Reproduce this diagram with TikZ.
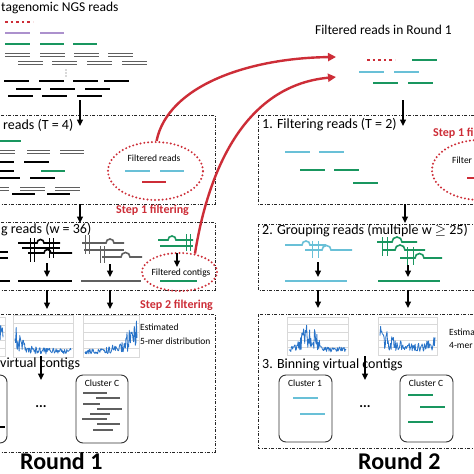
\documentclass[tikz,border=0pt]{standalone}
\usepackage{fontspec}
\setmainfont{Carlito}
\usetikzlibrary{arrows.meta,shapes.geometric}
\definecolor{rdc}{RGB}{205,45,55}
\definecolor{grc}{RGB}{25,150,95}
\definecolor{cyc}{RGB}{105,192,215}
\definecolor{puc}{RGB}{172,145,205}
\definecolor{gyc}{RGB}{95,95,95}
\definecolor{blc}{RGB}{40,115,200}
\newcommand{\distchart}[5]{%
  \draw[chartframe] (#1,#2) rectangle (#3,#4);
  \foreach \k in {1,...,4}{\draw[chartgrid] (#1,{#2+(#4-#2)*\k/5}) -- (#3,{#2+(#4-#2)*\k/5});}
  \draw[spike] plot[domain=0:1,samples=95,variable=\t] ({#1+2+(#3-#1-4)*\t},{#4-2-(#5)*(0.15+0.85*rnd)});
}
\newcommand{\dread}[3]{%
  \draw[gline] (#1,{#3-1.2}) -- (#2,{#3-1.2});
  \draw[gline] (#1,{#3+1.2}) -- (#2,{#3+1.2});
}
\begin{document}
\begin{tikzpicture}[x=1pt,y=-1pt,
 rd/.style={line width=2.8pt},
 blk/.style={rd, black},
 grn/.style={rd, grc},
 cyn/.style={rd, cyc},
 pur/.style={rd, puc},
 redread/.style={line width=2.8pt, rdc, dash pattern=on 2.6pt off 3pt},
 gline/.style={draw=gyc, line width=0.9pt},
 ddbox/.style={draw=black!85, line width=0.8pt, dash pattern=on 3pt off 1.6pt on 0.8pt off 1.6pt},
 arr/.style={line width=1.4pt, -{Triangle[length=6.5pt,width=6pt]}},
 redarr/.style={line width=2.4pt, rdc, -{Triangle[length=8pt,width=8pt]}},
 dotell/.style={draw=rdc, line width=2.2pt, line cap=round, dash pattern=on 0pt off 3.8pt, ellipse, inner sep=0pt},
 ttl/.style={font=\fontsize{14}{16}\selectfont, anchor=base west, inner sep=0pt},
 steplbl/.style={font=\fontsize{12}{14}\selectfont\bfseries, text=rdc, anchor=base west, inner sep=0pt},
 small/.style={font=\fontsize{9.5}{11}\selectfont, inner sep=0pt},
 clbox/.style={draw=black!80, line width=0.9pt, rounded corners=7pt},
 rndlbl/.style={font=\fontsize{24}{28}\selectfont\bfseries, anchor=base west, inner sep=0pt},
 chartframe/.style={draw=black!15, line width=0.5pt, fill=white},
 chartgrid/.style={draw=black!15, line width=0.4pt},
 spike/.style={draw=blc, line width=0.8pt, line join=round},
 gl/.style={line width=1.6pt},
 vl/.style={line width=0.7pt},
]
\useasboundingbox (0,0) rectangle (474,474);
\fill[white] (0,0) rectangle (474,474);
\pgfmathsetseed{4242}
\begin{scope}
\clip (0,0) rectangle (474,474);

% ---------- top-left: input reads ----------
\node[ttl, font=\fontsize{13.5}{16}\selectfont] (title) at (1,11) {tagenomic NGS reads};
\draw[redread] (5,22) -- (33,22);
\draw[pur] (5,33) -- (30,33); \draw[pur] (40,33) -- (64,33);
\draw[grn] (5,44) -- (30,44); \draw[grn] (40,44) -- (64,44); \draw[grn] (73,44) -- (97,44);
\foreach \a in {5,40,74,108} {\dread{\a}{\a+25}{55}}
\foreach \a in {18,52,87,122} {\dread{\a}{\a+25}{63}}
\fill[gyc] (66,70) circle (0.6); \fill[gyc] (66,73) circle (0.6); \fill[gyc] (66,76) circle (0.6);
\foreach \a in {4,39,73,104} \draw[blk] (\a,81) -- (\a+25,81);
\foreach \a in {16,50,85} \draw[blk] (\a,89) -- (\a+25,89);
\foreach \a in {8,42,77} \draw[blk] (\a,96) -- (\a+25,96);

% ---------- Round 1, box 1 ----------
\draw[ddbox] (-5,115) rectangle (215,204);
\node[ttl] (r1t1) at (3,129) {reads (T = 4)};
\draw[grn] (-2,141) -- (21,141);
\dread{-2}{15}{152} \dread{27}{50}{152} \dread{60}{84}{152}
\draw[blk] (-2,162) -- (14,162); \draw[blk] (24,162) -- (49,162);
\draw[blk] (-2,171) -- (14,171); \draw[grn] (41,171) -- (65,171);
\draw[blk] (-2,178) -- (20,178); \draw[blk] (30,178) -- (55,178);
\dread{-2}{9}{189} \dread{20}{45}{189} \dread{55}{80}{189}
\draw[blk] (12,194) -- (35,194); \draw[blk] (47,194) -- (70,194);

\node[dotell, minimum width=95pt, minimum height=58pt] (fr1) at (155.5,171) {};
\node[small, anchor=base] (fr1t) at (154,161) {Filtered reads};
\draw[cyn] (125,171) -- (150,171); \draw[cyn] (160,171) -- (184,171);
\draw[rd, rdc] (142,182) -- (166,182);
\node[steplbl] (s1a) at (116,213) {Step 1 filtering};

% ---------- Round 1, box 2 ----------
\draw[ddbox] (-5,222) rectangle (215,290);
\node[ttl] (r1t2) at (1,233) {g reads (w = 36)};
\draw[blk, line width=1.8pt] (-2,252) -- (8,252); \draw[blk, line width=1.8pt] (-2,258) -- (8,258);
% black grouping diagram
\draw[gl] (18,243) -- (37,243) arc[start angle=180,end angle=360,radius=3.5] -- (60,243);
\draw[gl] (22,248) -- (60,248);
\draw[gl] (28,253) -- (44,253) arc[start angle=180,end angle=360,radius=3.5] -- (72,253);
\draw[vl] (30,238) -- (30,262); \draw[vl] (34,238) -- (34,262);
\draw[vl] (49,238) -- (49,258); \draw[vl] (53,238) -- (53,258);
% gray grouping diagram
\begin{scope}[gyc]
\draw[gl] (82,243) -- (106,243) arc[start angle=180,end angle=360,radius=4] -- (124,243);
\draw[gl] (84,250) -- (124,250);
\draw[gl] (102,257) -- (121,257) arc[start angle=180,end angle=360,radius=4.5] -- (142,257);
\draw[vl] (85,235) -- (85,254); \draw[vl] (89,235) -- (89,254);
\draw[vl] (100,246) -- (100,263); \draw[vl] (104,246) -- (104,263);
\end{scope}
% green small diagram
\begin{scope}[grc]
\draw[gl] (158,240) -- (168,240) arc[start angle=180,end angle=360,radius=4] -- (193,240);
\draw[gl] (160,246) -- (193,246);
\draw[vl] (186,234) -- (186,251); \draw[vl] (190,234) -- (190,251);
\end{scope}
% contigs
\draw[blk] (-2,281) -- (10,281);
\draw[blk] (18,281) -- (72,281);
\draw[rd, gyc] (81,281) -- (141,281);
\node[dotell, minimum width=75pt, minimum height=38pt] (fc) at (179.5,272) {};
\node[small, anchor=base] (fct) at (181,275) {Filtered contigs};
\draw[grn] (160,281) -- (197,281);
\coordinate (fcs) at (177,253); \coordinate (fce) at (177,267);
\draw[arr, line width=1.2pt] (fcs) -- (fce);
\node[steplbl] (s2a) at (140,308) {Step 2 filtering};

% ---------- Round 1, box 3 ----------
\draw[ddbox] (-5,314) rectangle (215,452);
\distchart{-52}{317}{5}{356}{8+24*\t}
\distchart{13}{315}{73}{357}{7+30*exp(-9*\t)}
\distchart{83}{315}{139}{357}{6+32*\t*\t*\t}
\node[small, anchor=base west] (est1) at (140,330) {Estimated};
\node[small, anchor=base west] (est1b) at (140,344) {5-mer distribution};
\node[ttl] (r1t3) at (0,367) {virtual contigs};
\draw[clbox] (-50,375) rectangle (7,443);
\draw[blk, line width=2pt] (-2,427) -- (5,427);
\node[font=\fontsize{14}{16}\selectfont\bfseries, inner sep=0pt] (dots1) at (41,407) {...};
\draw[clbox] (76,375) rectangle (128,443);
\node[small, anchor=base] (c1c) at (102,386) {Cluster C};
\begin{scope}[gyc, line width=2pt]
\draw (83,393) -- (107,393);
\draw (96,398) -- (120,398);
\draw (83,404) -- (100,404);
\draw (97,409) -- (122,409);
\draw (90,414) -- (110,414);
\draw (82,419) -- (107,419);
\draw (97,424) -- (120,424);
\draw (93,430) -- (113,430);
\end{scope}
\node[rndlbl] (rnd1) at (20,469) {Round 1};

% ---------- Round 2 top: filtered reads ----------
\node[anchor=base west, inner sep=0pt, font=\fontsize{13.5}{16}\selectfont] (frt) at (315,34.5) {Filtered reads in Round 1};
\draw[redread] (367,60) -- (395,60);
\draw[grn] (412,60) -- (437,60);
\draw[cyn] (359,72) -- (384,72); \draw[cyn] (394,72) -- (419,72);
\draw[grn] (373,83) -- (398,83); \draw[grn] (408,83) -- (433,83);
\coordinate (t1) at (336,57); \coordinate (t2) at (336,77);
\draw[redarr] (fr1.88) .. controls (168,85) and (250,58) .. (t1);
\draw[redarr] (fc.50) .. controls (210,160) and (250,85) .. (t2);

% ---------- Round 2, box 1 ----------
\draw[ddbox] (258,115) rectangle (480,204);
\node[ttl] (r2t1) at (262,128) {1. Filtering reads (T = 2)};
\draw[cyn] (285,152) -- (310,152); \draw[cyn] (319,152) -- (344,152);
\draw[grn] (300,170) -- (325,170); \draw[grn] (334,170) -- (359,170);
\draw[grn] (353,183) -- (378,183);
\node[dotell, minimum width=96pt, minimum height=60pt] (fr2) at (480,170) {};
\node[small, anchor=base west] (fr2t) at (452,163) {Filter};
\draw[rd, rdc] (467,178) -- (491,178);
\node[steplbl] (s1b) at (433,136) {Step 1 fi};

% ---------- Round 2, box 2 ----------
\draw[ddbox] (258,224) rectangle (480,290);
\node[ttl] (r2t2) at (262,234) {2. Grouping reads (multiple w $\geq$ 25)};
\begin{scope}[cyc]
\draw[gl] (285,245) -- (302,245) arc[start angle=180,end angle=360,radius=4] -- (326,245);
\draw[gl] (305,250) -- (322,250) arc[start angle=180,end angle=360,radius=4.5] -- (352,250);
\draw[vl] (312,241) -- (312,258); \draw[vl] (318,241) -- (318,258);
\end{scope}
\begin{scope}[grc]
\draw[gl] (377,242) -- (392,242) arc[start angle=180,end angle=360,radius=5] -- (417,242);
\draw[gl] (382,250) -- (395,250) arc[start angle=180,end angle=360,radius=5] -- (425,250);
\draw[gl] (400,258) -- (415,258) arc[start angle=180,end angle=360,radius=4.5] -- (442,258);
\draw[vl] (382,237) -- (382,256); \draw[vl] (387,237) -- (387,256);
\draw[vl] (407,247) -- (407,265); \draw[vl] (413,247) -- (413,265);
\end{scope}
\draw[cyn] (285,281) -- (347,281);
\draw[grn] (378,281) -- (440,281);

% ---------- Round 2, box 3 ----------
\draw[ddbox] (258,314) rectangle (480,448);
\distchart{287}{317}{348}{355}{6+28*exp(-40*(\t-0.35)*(\t-0.35))}
\distchart{378}{317}{437}{355}{8+26*exp(-5*\t)+8*\t*\t*\t*\t}
\node[small, anchor=base west] (est2) at (449,335) {Estima};
\node[small, anchor=base west] (est2b) at (449,348) {4-mer};
\node[ttl] (r2t3) at (262,368) {3. Binning virtual contigs};
\draw[clbox] (279,375) rectangle (332,442);
\node[small, anchor=base] (c21) at (305,386) {Cluster 1};
\draw[cyn, line width=2.2pt] (293,398) -- (318,398);
\draw[cyn, line width=2.2pt] (300,414) -- (325,414);
\node[font=\fontsize{14}{16}\selectfont\bfseries, inner sep=0pt] (dots2) at (365,407) {...};
\draw[clbox] (400,375) rectangle (453,442);
\node[small, anchor=base] (c2c) at (426,386) {Cluster C};
\draw[grn, line width=2.2pt] (408,395) -- (433,395);
\draw[grn, line width=2.2pt] (420,407) -- (445,407);
\draw[grn, line width=2.2pt] (408,422) -- (433,422);
\node[rndlbl] (rnd2) at (358,469) {Round 2};

% ---------- black arrows ----------
\coordinate (a1s) at (80,100); \coordinate (a1e) at (80,126);
\coordinate (a2s) at (80,204); \coordinate (a2e) at (80,223);
\coordinate (a3s) at (47,263); \coordinate (a3e) at (47,277);
\coordinate (a4s) at (110,264); \coordinate (a4e) at (110,277);
\coordinate (a5s) at (47,290); \coordinate (a5e) at (47,309);
\coordinate (a6s) at (110,290); \coordinate (a6e) at (110,309);
\coordinate (a7s) at (41,356); \coordinate (a7e) at (41,380);
\coordinate (b1s) at (403,100); \coordinate (b1e) at (403,126);
\coordinate (b2s) at (405,204); \coordinate (b2e) at (405,223);
\coordinate (b3s) at (318,262); \coordinate (b3e) at (318,277);
\coordinate (b4s) at (408,265); \coordinate (b4e) at (408,277);
\coordinate (b5s) at (318,290); \coordinate (b5e) at (318,308);
\coordinate (b6s) at (408,290); \coordinate (b6e) at (408,308);
\coordinate (b7s) at (365,356); \coordinate (b7e) at (365,380);
\foreach \p in {a1,a2,a3,a4,a5,a6,a7,b1,b2,b3,b4,b5,b6,b7}
  \draw[arr] (\p s) -- (\p e);
\end{scope}
\end{tikzpicture}
\end{document}
